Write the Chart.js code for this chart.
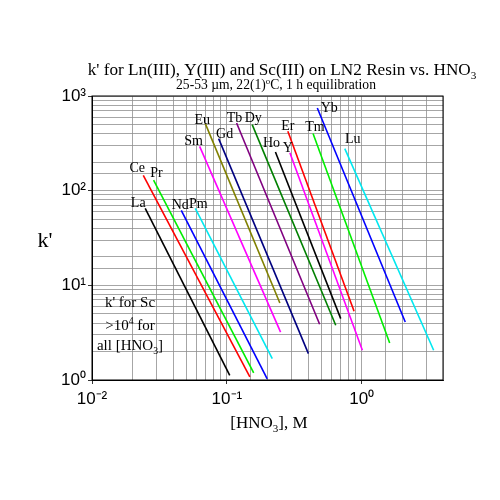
<!DOCTYPE html>
<html>
<head>
<meta charset="utf-8">
<script src="https://cdn.jsdelivr.net/npm/chart.js@4.4.1/dist/chart.umd.min.js"></script>
<style>
  html, body { margin: 0; padding: 0; background: #fff; }
  #wrap { width: 500px; height: 500px; }
</style>
</head>
<body>
<div id="wrap"><canvas id="myChart"></canvas></div>
<script>
// k' vs [HNO3] for each element, straight lines on log-log axes (start and end points)
var elements = ["La", "Ce", "Pr", "Nd", "Pm", "Sm", "Eu", "Gd", "Tb", "Dy", "Ho", "Y", "Er", "Tm", "Yb", "Lu"];
var hno3Start = [0.0248, 0.0240, 0.0286, 0.0459, 0.0583, 0.0628, 0.0692, 0.0869, 0.118, 0.154, 0.229, 0.293, 0.283, 0.435, 0.468, 0.748];
var kStart    = [65, 145, 129, 62, 65, 294, 511, 355, 519, 499, 256, 252, 424, 401, 747, 278];
var hno3End   = [0.105, 0.148, 0.158, 0.199, 0.217, 0.250, 0.247, 0.402, 0.487, 0.641, 0.698, 1.01, 0.877, 1.61, 2.10, 3.41];
var kEnd      = [1.12, 1.08, 1.19, 1.03, 1.68, 3.2, 6.5, 1.90, 3.88, 3.79, 4.45, 2.06, 5.32, 2.46, 4.10, 2.06];
var lineColors = ["#000000", "#ff0000", "#00ee00", "#0000ff", "#00e8f0", "#ff00ff", "#808000", "#000080",
                  "#800080", "#008000", "#000000", "#ff00ff", "#ff0000", "#00ee00", "#0000ff", "#00e8f0"];
// where each element name sits relative to the top of its line (px)
var labelShift = [[-7, -1], [-6, -3], [3, -3], [-1, -1], [3, 0], [-6, -1], [-3, 0], [6, -1],
                  [-2, -1], [1, -3], [-4, -5], [-2, -1], [0, -1], [2, -3], [12, 4], [8, -6]];

var xMin = 0.01, xMax = 4;
var yMin = 1, yMax = 1000;

var serif = "'Liberation Serif', 'Times New Roman', serif";
var sans = "'Liberation Sans', Arial, sans-serif";

function isDecade(v) {
  var e = Math.log10(v);
  return Math.abs(e - Math.round(e)) < 1e-6;
}
var supMap = { "-": "\u207B", "0": "\u2070", "1": "\u00B9", "2": "\u00B2", "3": "\u00B3" };
function decadeLabel(v) {
  if (!isDecade(v)) return "";
  var s = String(Math.round(Math.log10(v))).split("").map(function (c) { return supMap[c]; }).join("");
  return "10" + s;
}

// draws text made of pieces, some of them sub- or superscript
function richText(ctx, parts, x, y, size, align) {
  var widths = parts.map(function (p) {
    ctx.font = (p.s ? size * 0.65 : size) + "px " + serif;
    return ctx.measureText(p.t).width;
  });
  var total = widths.reduce(function (a, b) { return a + b; }, 0);
  var cx = align === "center" ? x - total / 2 : x;
  ctx.textAlign = "left";
  ctx.textBaseline = "alphabetic";
  parts.forEach(function (p, i) {
    ctx.font = (p.s ? size * 0.65 : size) + "px " + serif;
    var dy = p.s === "sub" ? size * 0.25 : p.s === "sup" ? -size * 0.4 : 0;
    ctx.fillText(p.t, cx, y + dy);
    cx += widths[i];
  });
}

var datasets = elements.map(function (el, i) {
  return {
    label: el,
    data: [{ x: hno3Start[i], y: kStart[i] }, { x: hno3End[i], y: kEnd[i] }],
    borderColor: lineColors[i],
    borderWidth: 1.6,
    pointRadius: 0,
    fill: false
  };
});

var extras = {
  id: "extras",
  afterDraw: function (chart) {
    var ctx = chart.ctx, a = chart.chartArea;
    var xs = chart.scales.x, ys = chart.scales.y;
    ctx.save();
    ctx.strokeStyle = "#000";
    ctx.lineWidth = 1;
    ctx.strokeRect(a.left, a.top, a.right - a.left, a.bottom - a.top);

    ctx.fillStyle = "#000";
    ctx.font = "14px " + serif;
    ctx.textAlign = "center";
    ctx.textBaseline = "alphabetic";
    elements.forEach(function (el, i) {
      var px = xs.getPixelForValue(hno3Start[i]) + labelShift[i][0];
      var py = ys.getPixelForValue(kStart[i]) + labelShift[i][1];
      ctx.fillText(el, px, py);
    });

    richText(ctx, [{ t: "k' for Ln(III), Y(III) and Sc(III) on LN2 Resin vs. HNO" }, { t: "3", s: "sub" }], 282, 75, 17.2, "center");
    richText(ctx, [{ t: "25-53 \u00B5m, 22(1)" }, { t: "o", s: "sup" }, { t: "C, 1 h equilibration" }], 276, 89, 13.6, "center");
    richText(ctx, [{ t: "[HNO" }, { t: "3", s: "sub" }, { t: "], M" }], 269, 428, 17, "center");
    richText(ctx, [{ t: "k'" }], 45, 247, 22, "center");

    richText(ctx, [{ t: "k' for Sc" }], 130, 307, 15, "center");
    richText(ctx, [{ t: ">10" }, { t: "4", s: "sup" }, { t: " for" }], 130, 330, 15, "center");
    richText(ctx, [{ t: "all [HNO" }, { t: "3", s: "sub" }, { t: "]" }], 130, 350, 15, "center");
    ctx.restore();
  }
};

var gridOpts = {
  color: "#8f8f8f",
  lineWidth: 0.8,
  tickLength: 4,
  tickColor: function (c) { return c.tick && isDecade(c.tick.value) ? "#000" : "rgba(0,0,0,0)"; }
};

new Chart("myChart", {
  type: "line",
  data: { datasets: datasets },
  options: {
    responsive: true,
    maintainAspectRatio: false,
    animation: false,
    layout: { padding: { top: 96, right: 57, left: 0, bottom: 0 } },
    plugins: { legend: { display: false }, tooltip: { enabled: false }, title: { display: false } },
    scales: {
      x: {
        type: "logarithmic",
        min: xMin,
        max: xMax,
        afterFit: function (s) { s.height = 120; },
        grid: gridOpts,
        border: { color: "#000", width: 1 },
        ticks: {
          autoSkip: false,
          maxRotation: 0,
          padding: 5,
          color: "#000",
          font: { family: sans, size: 17 },
          callback: function (v) { return decadeLabel(v); }
        }
      },
      y: {
        type: "logarithmic",
        min: yMin,
        max: yMax,
        afterFit: function (s) { s.width = 92; },
        grid: gridOpts,
        border: { color: "#000", width: 1 },
        ticks: {
          autoSkip: false,
          padding: 2,
          color: "#000",
          font: { family: sans, size: 17 },
          callback: function (v) { return decadeLabel(v); }
        }
      }
    }
  },
  plugins: [extras]
});
</script>
</body>
</html>
